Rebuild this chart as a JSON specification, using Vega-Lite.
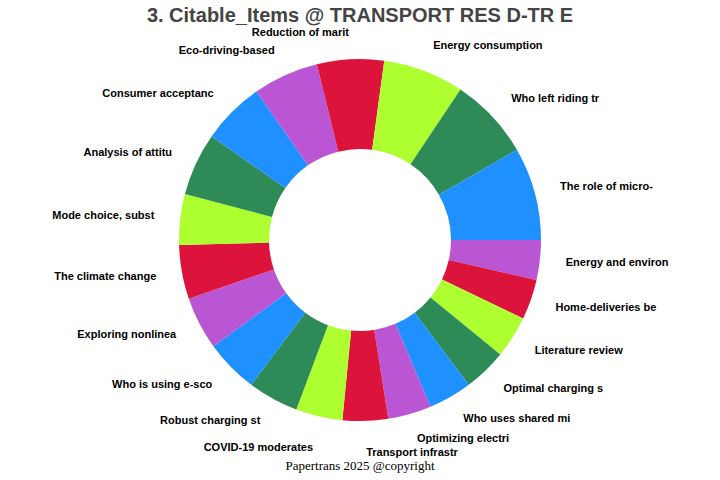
{
  "$schema": "https://vega.github.io/schema/vega-lite/v6.json",
  "width": 720,
  "height": 480,
  "autosize": {"type": "fit", "contains": "padding"},
  "padding": 0,
  "background": "white",
  "view": {"stroke": null},
  "title": {
    "text": "3. Citable_Items @ TRANSPORT RES D-TR E",
    "font": "Liberation Sans",
    "fontSize": 20,
    "fontWeight": "bold",
    "color": "#444444",
    "anchor": "middle",
    "offset": -26
  },
  "data": {
    "values": [
      {"idx": 0, "title": "Energy and environ", "value": 12.75},
      {"idx": 1, "title": "Home-deliveries be", "value": 12.95},
      {"idx": 2, "title": "Literature review", "value": 13.5},
      {"idx": 3, "title": "Optimal charging s", "value": 13.85},
      {"idx": 4, "title": "Who uses shared mi", "value": 14.05},
      {"idx": 5, "title": "Optimizing electri", "value": 13.9},
      {"idx": 6, "title": "Transport infrastr", "value": 14.6},
      {"idx": 7, "title": "COVID-19 moderates", "value": 15.0},
      {"idx": 8, "title": "Robust charging st", "value": 16.35},
      {"idx": 9, "title": "Who is using e-sco", "value": 17.15},
      {"idx": 10, "title": "Exploring nonlinea", "value": 17.0},
      {"idx": 11, "title": "The climate change", "value": 17.3},
      {"idx": 12, "title": "Mode choice, subst", "value": 16.3},
      {"idx": 13, "title": "Analysis of attitu", "value": 20.2},
      {"idx": 14, "title": "Consumer acceptanc", "value": 20.2},
      {"idx": 15, "title": "Eco-driving-based", "value": 21.1},
      {"idx": 16, "title": "Reduction of marit", "value": 21.5},
      {"idx": 17, "title": "Energy consumption", "value": 26.0},
      {"idx": 18, "title": "Who left riding tr", "value": 26.4},
      {"idx": 19, "title": "The role of micro-", "value": 29.9}
    ]
  },
  "layer": [
    {
      "mark": {"type": "arc", "innerRadius": 91, "outerRadius": 181},
      "encoding": {
        "theta": {"field": "value", "type": "quantitative", "stack": true, "scale": {"range": [1.5708, 7.854]}},
        "order": {"field": "idx", "type": "quantitative"},
        "color": {
          "field": "title",
          "type": "nominal",
          "legend": null,
          "scale": {
            "domain": ["Energy and environ", "Home-deliveries be", "Literature review", "Optimal charging s", "Who uses shared mi", "Optimizing electri", "Transport infrastr", "COVID-19 moderates", "Robust charging st", "Who is using e-sco", "Exploring nonlinea", "The climate change", "Mode choice, subst", "Analysis of attitu", "Consumer acceptanc", "Eco-driving-based", "Reduction of marit", "Energy consumption", "Who left riding tr", "The role of micro-"],
            "range": ["#BA55D3", "#DC143C", "#ADFF2F", "#2E8B57", "#1E90FF", "#BA55D3", "#DC143C", "#ADFF2F", "#2E8B57", "#1E90FF", "#BA55D3", "#DC143C", "#ADFF2F", "#2E8B57", "#1E90FF", "#BA55D3", "#DC143C", "#ADFF2F", "#2E8B57", "#1E90FF"]
          }
        }
      }
    },
    {
      "mark": {
        "type": "text",
        "radius": 207,
        "font": "Liberation Sans",
        "fontSize": 11,
        "fontWeight": "bold",
        "color": "black",
        "baseline": {"expr": "cos(scale('theta', 0.5*datum.value_start + 0.5*datum.value_end)) < -0.97 ? 'top' : 'middle'"},
        "align": {"expr": "(datum.idx >= 7 && datum.idx <= 16) ? 'right' : 'left'"}
      },
      "encoding": {
        "theta": {"field": "value", "type": "quantitative", "stack": true},
        "order": {"field": "idx", "type": "quantitative"},
        "text": {"field": "title", "type": "nominal"}
      }
    },
    {
      "data": {"values": [{"note": "Papertrans 2025 @copyright"}]},
      "mark": {
        "type": "text",
        "font": "Liberation Serif",
        "fontSize": 13,
        "color": "black",
        "align": "center",
        "baseline": "middle",
        "x": {"expr": "width/2"},
        "y": {"expr": "height-14"}
      },
      "encoding": {
        "text": {"field": "note", "type": "nominal"}
      }
    }
  ]
}
